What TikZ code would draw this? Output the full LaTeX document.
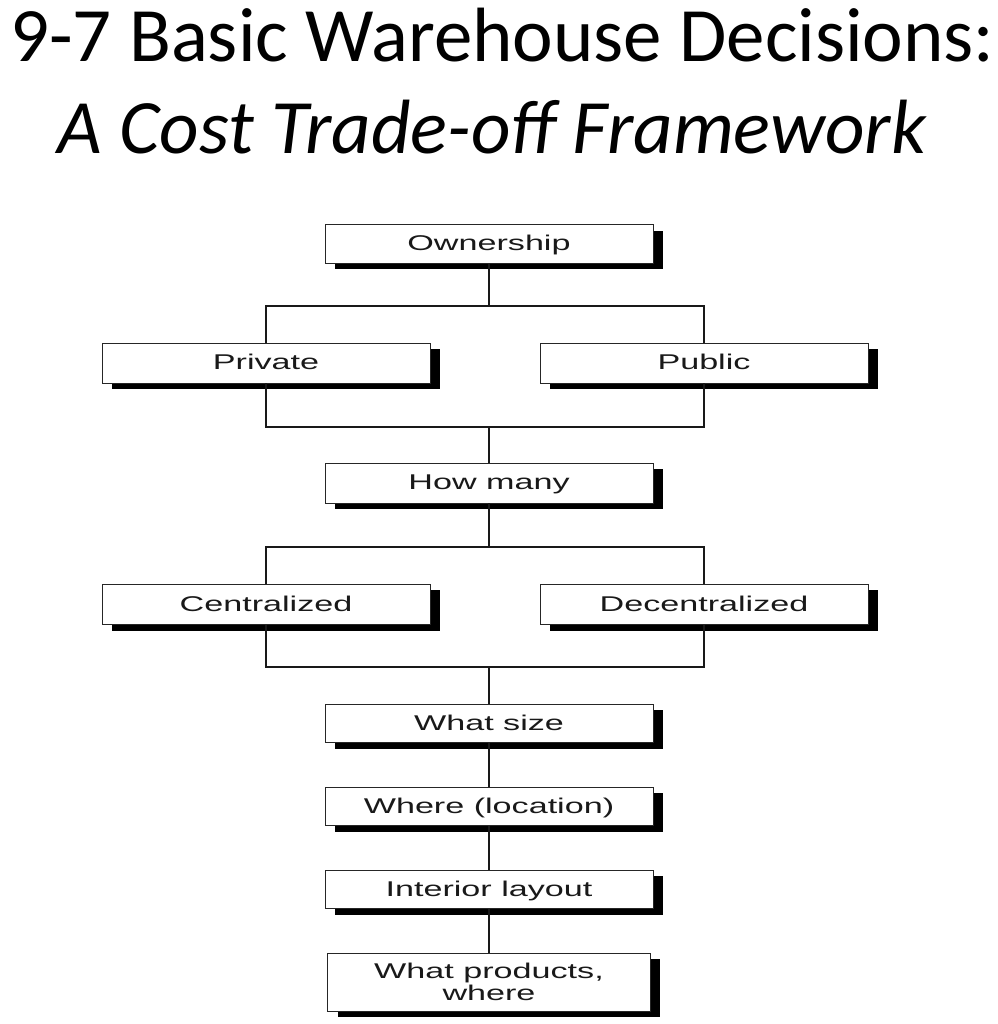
\documentclass[tikz,border=0pt]{standalone}
\usepackage{fontspec}
\usetikzlibrary{positioning,chains,shadows}

\newfontfamily\titlefont{Carlito}
\newfontfamily\boxfont[FakeStretch=1.6]{Liberation Sans}

\begin{document}
\begin{tikzpicture}[
	x=0.75pt, y=-0.75pt,
	box/.style={
		draw=black!85, fill=white,
		line width=0.7pt,
		inner sep=0pt,
		minimum width=246pt,
		minimum height=29pt,
		text centered,
		text height=1em, text depth=0pt,
		font=\boxfont\fontsize{16pt}{17pt}\selectfont,
		text=black!90,
		drop shadow={shadow xshift=7.5pt,shadow yshift=-4.5pt,fill=black,opacity=1},
	},
	link/.style={line width=1.1pt, black!90},
	every join/.style={link},
	title/.style={font=\titlefont\fontsize{57.7pt}{68pt}\selectfont, anchor=base, inner sep=0pt},
]
\useasboundingbox (0,0) rectangle (998,1024);

% Title
\node [title] (head) at (502.5,62) {9-7 Basic Warehouse Decisions:};
\node [title] (subhead) at (492,153) {\itshape A Cost Trade-off Framework};

% Ownership
\node [box] (own) at (489,244) {Ownership};
\node [box,minimum height=30pt] (priv) at (266,363) {Private};
\node [box,minimum height=30pt] (pub) at (704,363) {Public};

% How many
\node [box,minimum height=30pt] (many) at (489,483) {How many};
\node [box,minimum height=30.5pt] (cent) at (266,604.5) {Centralized};
\node [box,minimum height=30.5pt] (decent) at (704,604.5) {Decentralized};

% Chain starts here
\begin{scope}[start chain=going below, node distance=32.5pt]
\node [box,on chain] (size) at (489,723.5) {What size};
\node [box,on chain,join] (where) {Where (location)};
\node [box,on chain,join] (layout) {Interior layout};
\node [box,on chain,join,
	minimum width=242pt,
	minimum height=43.5pt,
	text height=, text depth=,
	align=center,
	font=\boxfont\fontsize{16pt}{16.5pt}\selectfont,
] (prod) {What products,\\where};
\end{scope}
% Chain ends here

% Junctions
\coordinate (j1) at (489,306);
\coordinate (j2) at (489,427);
\coordinate (j3) at (489,547);
\coordinate (j4) at (489,667);

% Connections between the levels
\draw [link] (own.south) -- (j1);
\draw [link] (priv.north) |- (j1) -| (pub.north);
\draw [link] (priv.south) |- (j2) -| (pub.south);
\draw [link] (j2) -- (many.north);
\draw [link] (many.south) -- (j3);
\draw [link] (cent.north) |- (j3) -| (decent.north);
\draw [link] (cent.south) |- (j4) -| (decent.south);
\draw [link] (j4) -- (size.north);

\end{tikzpicture}
\end{document}
